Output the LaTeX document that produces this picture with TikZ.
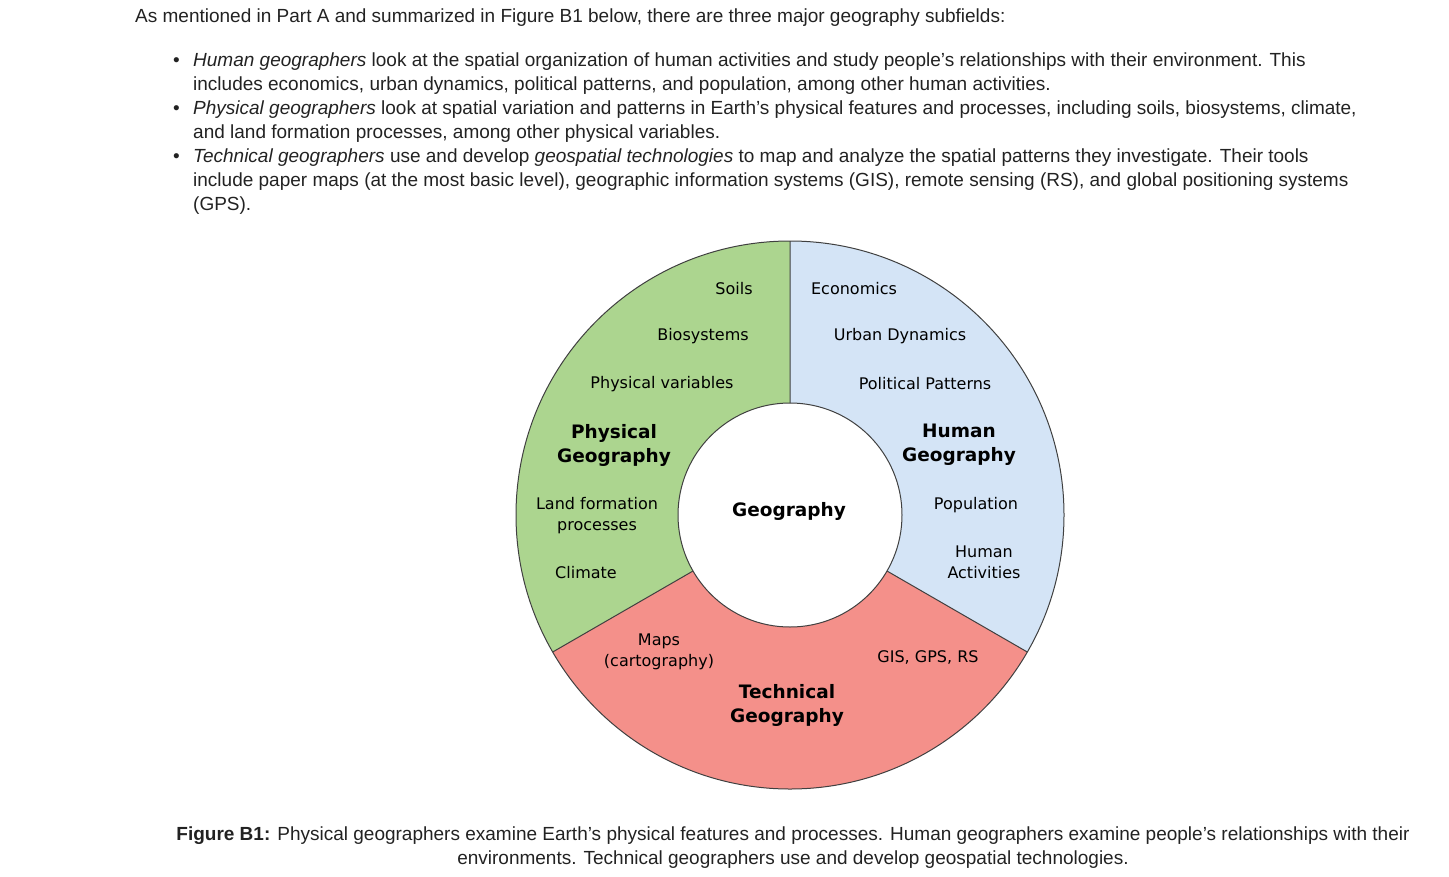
\documentclass[tikz,border=0pt]{standalone}
\usepackage{fontspec}
\setmainfont{Liberation Sans}
\newfontfamily\djfont{DejaVu Sans}
\definecolor{cgreen}{HTML}{ACD58F}
\definecolor{cblue}{HTML}{D4E4F6}
\definecolor{cred}{HTML}{F4908A}
\definecolor{ctext}{HTML}{222222}
\begin{document}
\begin{tikzpicture}[x=1pt,y=-1pt,
  para/.style={anchor=base west,inner sep=0pt,font=\fontsize{19}{22}\selectfont,text=ctext},
  lab/.style={inner sep=0pt,align=center,font=\djfont\fontsize{16}{21}\selectfont},
  big/.style={inner sep=0pt,align=center,font=\djfont\bfseries\fontsize{18.5}{24}\selectfont},
  capt/.style={inner sep=0pt,align=center,font=\fontsize{19}{24}\selectfont,text=ctext}]
\useasboundingbox (0,0) rectangle (1449,876);
\node[para] (l0) at (135,22) {As mentioned in Part A and summarized in Figure B1 below, there are three major geography subfields:};
\node[para] (b1) at (173,66) {•};
\node[para] (l1) at (193,66) {\textit{Human geographers} look at the spatial organization of human activities and study people’s relationships with their environment. This};
\node[para] (l2) at (193,90) {includes economics, urban dynamics, political patterns, and population, among other human activities.};
\node[para] (b2) at (173,114) {•};
\node[para] (l3) at (193,114) {\textit{Physical geographers} look at spatial variation and patterns in Earth’s physical features and processes, including soils, biosystems, climate,};
\node[para] (l4) at (193,138) {and land formation processes, among other physical variables.};
\node[para] (b3) at (173,162) {•};
\node[para] (l5) at (193,162) {\textit{Technical geographers} use and develop \textit{geospatial technologies} to map and analyze the spatial patterns they investigate. Their tools};
\node[para] (l6) at (193,186) {include paper maps (at the most basic level), geographic information systems (GIS), remote sensing (RS), and global positioning systems};
\node[para] (l7) at (193,210) {(GPS).};
\begin{scope}[shift={(790,515)},yscale=-1]
\fill[cgreen] (90:274) arc (90:210:274) -- (210:112) arc (210:90:112) -- cycle;
\fill[cblue] (90:274) arc (90:-30:274) -- (-30:112) arc (-30:90:112) -- cycle;
\fill[cred] (210:274) arc (210:330:274) -- (330:112) arc (330:210:112) -- cycle;
\draw[black!75,line width=1pt] (0,0) circle (274) (0,0) circle (112);
\draw[black!75,line width=1pt] (90:112)--(90:274) (210:112)--(210:274) (330:112)--(330:274);
\end{scope}
\node[lab] (soils) at (734,289) {Soils};
\node[lab] (bio) at (703,336) {Biosystems};
\node[lab] (pv) at (662,384) {Physical variables};
\node[big] (pg) at (614,445) {Physical\\Geography};
\node[lab] (lf) at (597,516) {Land formation\\processes};
\node[lab] (cl) at (586,573) {Climate};
\node[lab] (ec) at (854,289) {Economics};
\node[lab] (ud) at (900,336) {Urban Dynamics};
\node[lab] (pp) at (925,384) {Political Patterns};
\node[big] (hg) at (959,445) {Human\\Geography};
\node[lab] (po) at (976,505) {Population};
\node[lab] (ha) at (984,562) {Human\\Activities};
\node[big] (geo) at (789,511) {Geography};
\node[lab] (maps) at (659,652) {Maps\\(cartography)};
\node[lab] (gis) at (928,657) {GIS, GPS, RS};
\node[big] (tg) at (787,705) {Technical\\Geography};
\node[capt] (caption) at (793,848) {\textbf{Figure B1:} Physical geographers examine Earth’s physical features and processes. Human geographers examine people’s relationships with their\\environments. Technical geographers use and develop geospatial technologies.};
\end{tikzpicture}
\end{document}
